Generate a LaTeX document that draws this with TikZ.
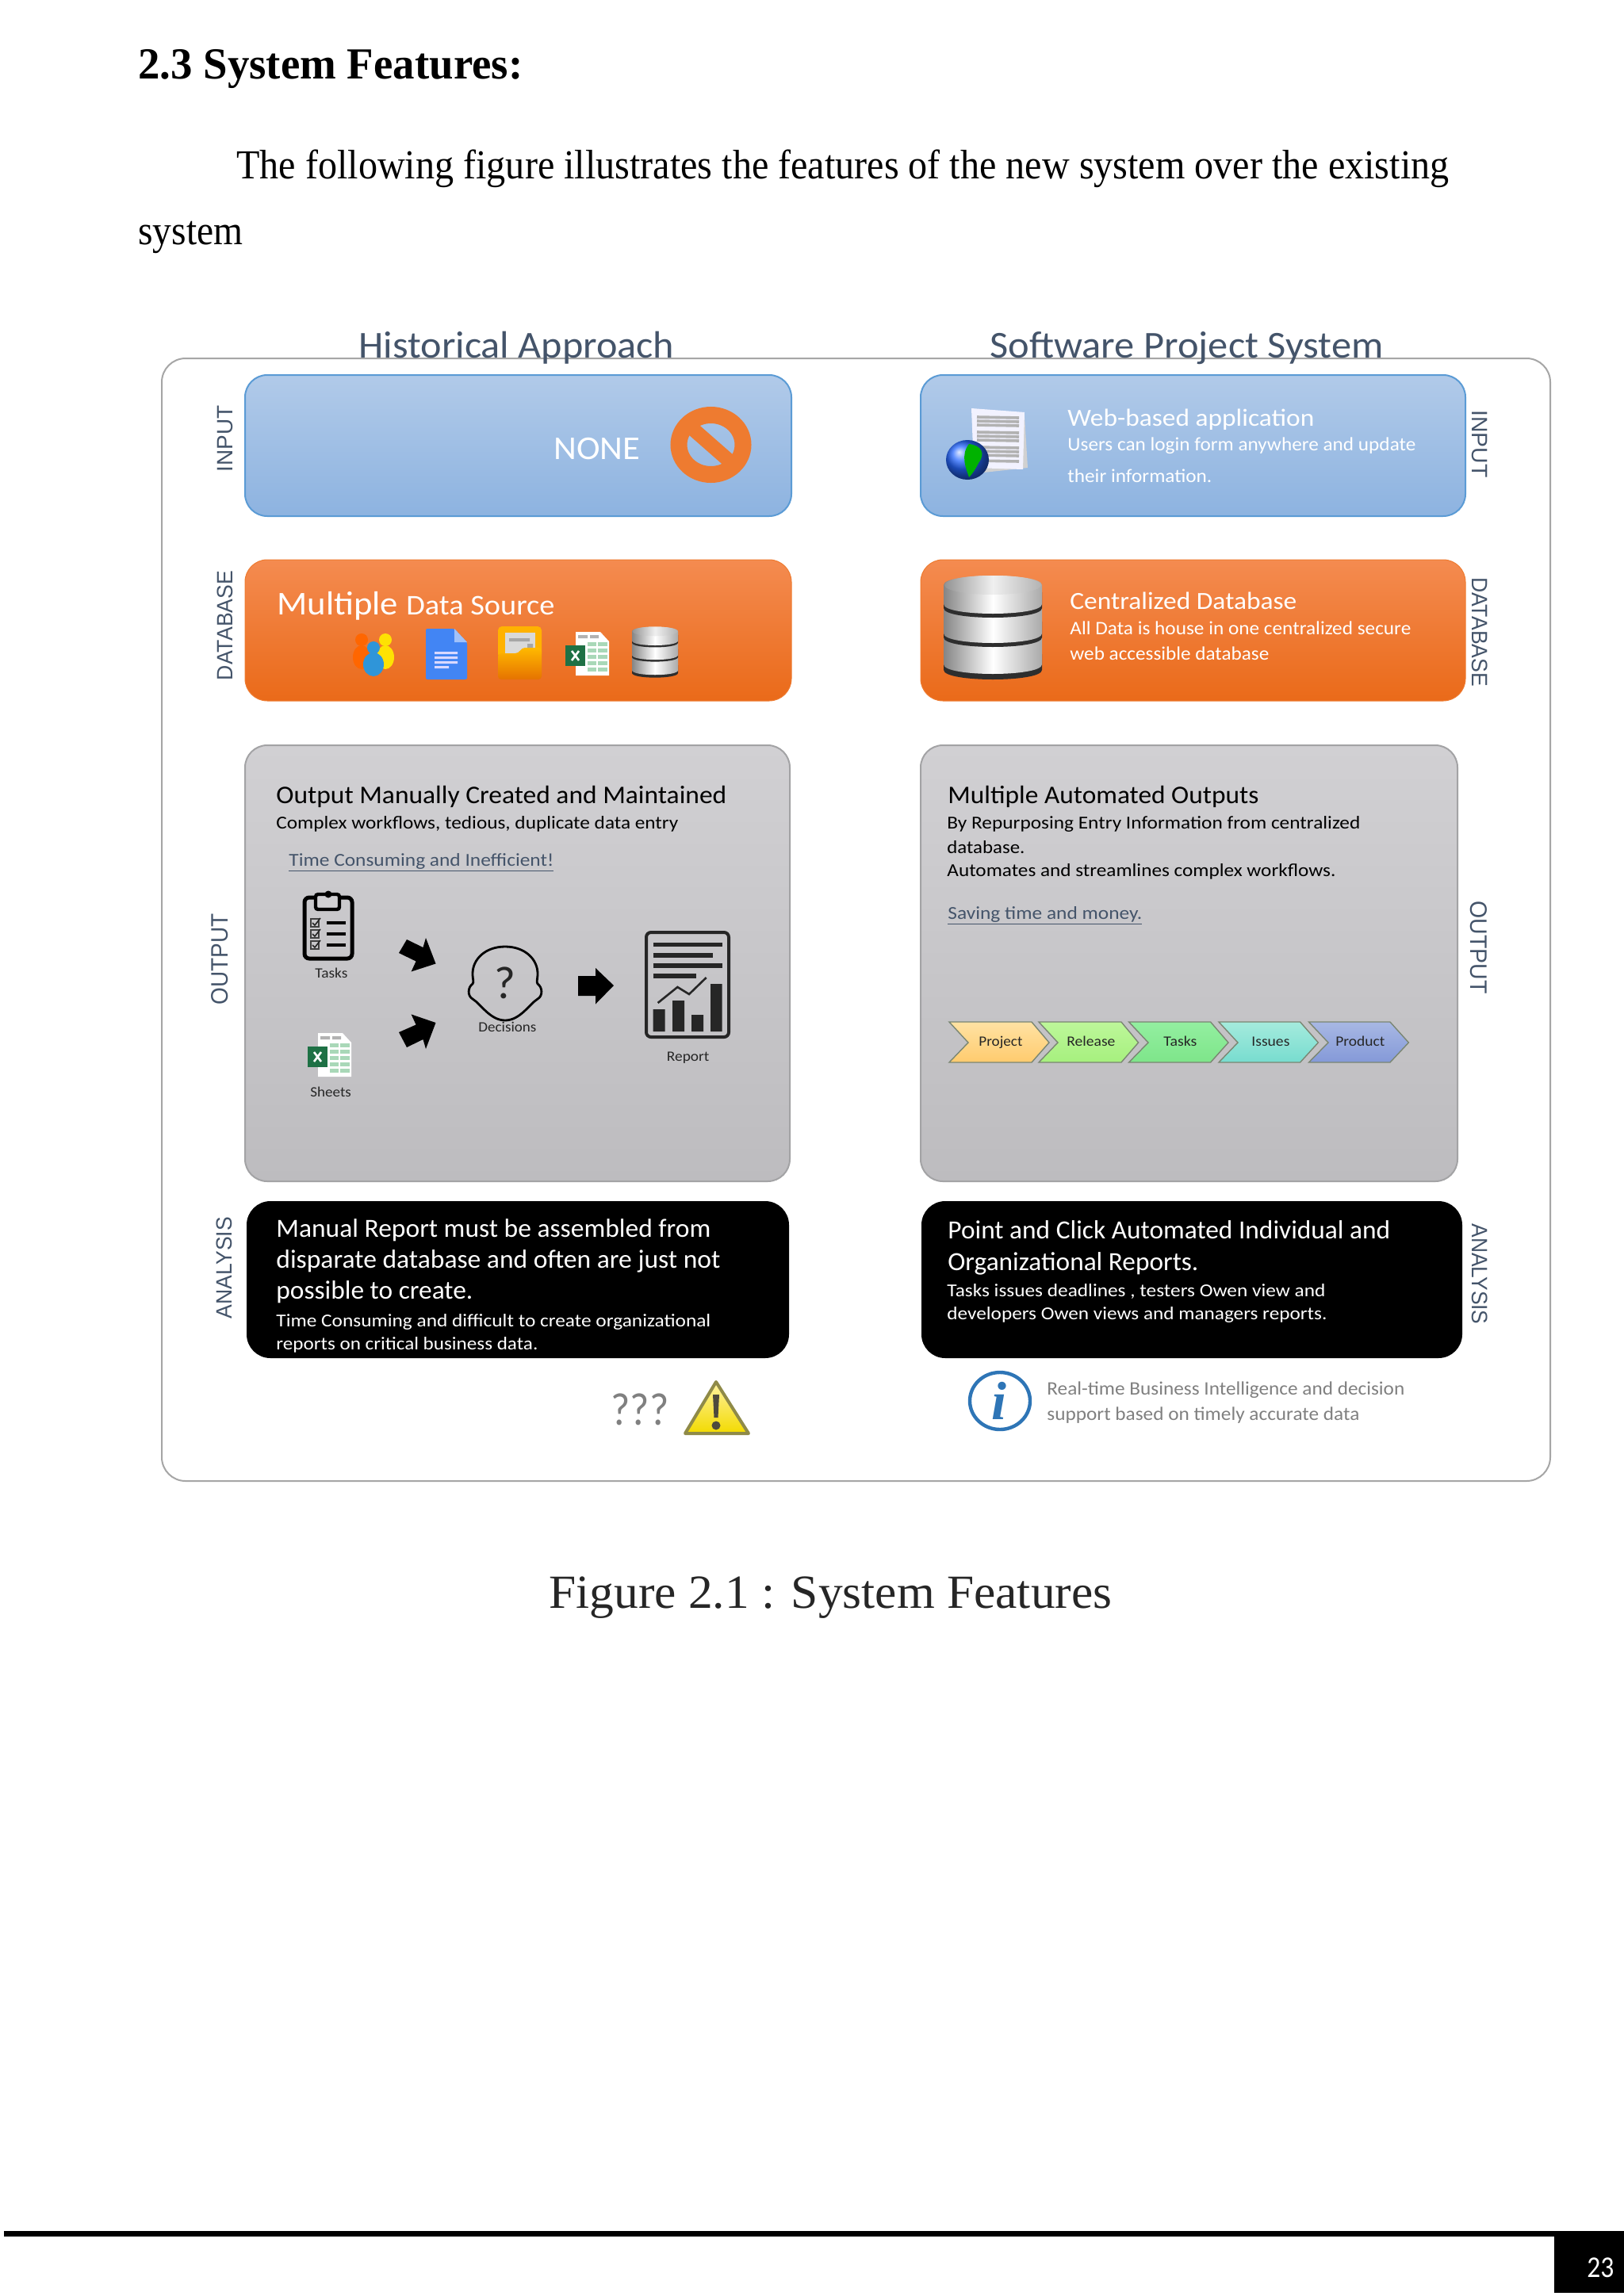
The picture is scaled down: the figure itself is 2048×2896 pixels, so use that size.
\documentclass[tikz,border=0pt]{standalone}
\usepackage{fontspec}
\usepackage{graphicx}
\setmainfont{Carlito}
\newfontfamily\serifT{Liberation Serif}
\newfontfamily\arialT{Liberation Sans}
\definecolor{slate}{HTML}{44546A}
\definecolor{frameC}{HTML}{A6A6A6}
\definecolor{blueE}{HTML}{5B9BD5}
\definecolor{blueT}{HTML}{B1CAE9}
\definecolor{blueB}{HTML}{8DB3E0}
\definecolor{orT}{HTML}{F48B50}
\definecolor{orB}{HTML}{EA6A19}
\definecolor{orS}{HTML}{EE7B30}
\definecolor{grT}{HTML}{D1D0D3}
\definecolor{grB}{HTML}{BDBCBF}
\definecolor{grE}{HTML}{A3A3A5}
\definecolor{greyT}{HTML}{808080}
\definecolor{xlG}{HTML}{1E7145}
\definecolor{xlL}{HTML}{A9D8B8}
\definecolor{dbS}{HTML}{858585}
\definecolor{infoC}{HTML}{2E75B6}
\definecolor{docB}{HTML}{4285F4}
\definecolor{docF}{HTML}{A1C2FA}
\definecolor{edgeC}{HTML}{7A8672}
\definecolor{chPa}{HTML}{FFE2A3}\definecolor{chPb}{HTML}{FFCB6E}
\definecolor{chRa}{HTML}{BDF79A}\definecolor{chRb}{HTML}{A6F07E}
\definecolor{chTa}{HTML}{93EFA0}\definecolor{chTb}{HTML}{7EE58A}
\definecolor{chIa}{HTML}{A5EBDD}\definecolor{chIb}{HTML}{77DCCF}
\definecolor{chOa}{HTML}{A8B8E4}\definecolor{chOb}{HTML}{8499D8}
\newlength\twd
\newsavebox\tbox
% target width in pt, text: text is stretched to the target width
\newcommand\fitbox[2]{%
  \sbox\tbox{#2}\twd=\wd\tbox
  \pgfmathsetmacro\xs{#1/\twd}%
  \scalebox{\xs}[1]{\usebox\tbox}}
% name, x0, x1, baseline y, size pt, colour, text
\newcommand\lab[7]{%
  \pgfmathsetmacro\tw{(#3-#2)*0.5}%
  \node[anchor=base west,inner sep=0pt,text=#6,font=\fontsize{#5}{#5}\selectfont] (#1) at (#2,#4) {\fitbox{\tw}{#7}};}
% name, cx, cy, length, size, rotation, text
\newcommand\vlab[7]{%
  \pgfmathsetmacro\tw{#4*0.5}%
  \node[anchor=center,inner sep=0pt,rotate=#6,text=slate,font=\fontsize{#5}{#5}\selectfont\arialT] (#1) at (#2,#3) {\fitbox{\tw}{#7}};}
\newcommand\dbtier[2]{%
  \shade[left color=dbS,right color=dbS!70,middle color=white]
    (0,#1) -- (0,#2) .. controls (0,#2+16) and (124,#2+16) .. (124,#2) -- (124,#1)
    .. controls (124,#1-16) and (0,#1-16) .. (0,#1) -- cycle;}
\newcommand\dbband[1]{%
  \fill[black!82] (0,#1-20) -- (0,#1) .. controls (0,#1+16) and (124,#1+16) .. (124,#1) -- (124,#1-20) -- cycle;}
\newcommand\dbicon[4]{%
  \begin{scope}[shift={(#1,#2)},xscale=#3,yscale=#4]
    \dbband{120}
    \dbtier{80}{113}
    \dbband{79}
    \dbtier{44}{74}
    \dbband{42}
    \dbtier{13}{37}
    \shade[left color=black!42,right color=black!30,middle color=black!6] (62,13) ellipse [x radius=61,y radius=12];
  \end{scope}}
\newcommand\xlicon[2]{%
  \begin{scope}[shift={(#1,#2)}]
    \fill[white] (13,0) -- (44,0) -- (55,12) -- (55,55) -- (13,55) -- cycle;
    \fill[black!30] (16,4) rectangle (28,8) (31,4) rectangle (42,8);
    \foreach \ya in {13,21,29,37,45}{
      \fill[xlL] (28,\ya) rectangle (39,\ya+5);
      \fill[xlL] (41,\ya) rectangle (53,\ya+5);}
    \fill[xlG] (0,17) rectangle (25,43);
    \draw[white,line width=1.3pt] (8,24) -- (17,36) (17,24) -- (8,36);
  \end{scope}}
\newcommand\chev[6]{% L R T N top bottom
  \path[draw=edgeC,line width=0.7pt,top color=#5,bottom color=#6] (#1,1289) -- (#2,1289) -- (#3,1315) -- (#2,1340) -- (#1,1340) -- (#4,1315) -- cycle;}
\begin{document}
\begin{tikzpicture}[x=0.5pt,y=-0.5pt,
  framebox/.style={draw=frameC,line width=1pt,rounded corners=15pt},
  bluebox/.style={draw=blueE,line width=1pt,top color=blueT,bottom color=blueB,rounded corners=14pt},
  orangebox/.style={draw=orS,line width=0.5pt,top color=orT,bottom color=orB,rounded corners=14pt},
  greybox/.style={draw=grE,line width=1pt,top color=grT,bottom color=grB,rounded corners=14pt},
  blackbox/.style={fill=black,rounded corners=15pt}]
\useasboundingbox (0,0) rectangle (2048,2896);
\fill[white] (0,0) rectangle (2048,2896);

% page text
\lab{heading}{174}{659}{99}{28}{black}{\serifT\bfseries 2.3 System Features:}
\lab{para1}{298}{1827}{225}{26}{black}{\serifT The following figure illustrates the features of the new system over the existing}
\lab{para2}{174}{306}{308}{26}{black}{\serifT system}
\lab{caption}{692}{1402}{2028}{30}{black!85}{\serifT Figure 2.1 : System Features}

% frame
\draw[framebox] (204,452) rectangle (1955,1868);
\lab{histT}{452}{850}{451}{24}{slate}{Historical Approach}
\lab{softT}{1248}{1744}{451}{24}{slate}{Software Project System}

% boxes
\draw[bluebox] (309,473) rectangle (998,651);
\draw[bluebox] (1161,473) rectangle (1848,651);
\draw[orangebox] (309,706) rectangle (998,884);
\draw[orangebox] (1161,706) rectangle (1848,884);
\draw[greybox] (309,940) rectangle (996,1490);
\draw[greybox] (1161,940) rectangle (1838,1490);
\fill[blackbox] (311,1515) rectangle (995,1713);
\fill[blackbox] (1162,1515) rectangle (1844,1713);

% side labels
\vlab{inL}{284}{553}{84}{14}{90}{INPUT}
\vlab{dbL}{284}{789}{138}{14}{90}{DATABASE}
\vlab{outL}{277}{1210}{115}{15}{90}{OUTPUT}
\vlab{anL}{283}{1599}{128}{14}{90}{ANALYSIS}
\vlab{inR}{1866}{560}{85}{14}{-90}{INPUT}
\vlab{dbR}{1866}{797}{138}{14}{-90}{DATABASE}
\vlab{outR}{1865}{1195}{117}{15}{-90}{OUTPUT}
\vlab{anR}{1866}{1607}{127}{14}{-90}{ANALYSIS}

% input left
\lab{none}{698}{807}{579}{21}{white}{NONE}
\draw[orS,line width=10.5pt] (896.5,561) ellipse [x radius=40.5,y radius=37.5];
\draw[orS,line width=9pt] (868,536) -- (925,586);

% input right
\fill[black!18] (1292,524) -- (1296,590) -- (1240,596) -- cycle;
\fill[white!95!blue] (1225,515) -- (1292,520) -- (1290,592) -- (1228,590) -- cycle;
\foreach \ya in {526,531,536,545,550,555,564,569,574,581}{
  \draw[black!30,line width=1.8pt] (1232,\ya) -- (1285,\ya+1);}
\shade[ball color=cyan!30!blue!85] (1220,580) ellipse [x radius=27,y radius=25];
\fill[green!70!black] (1222,560) .. controls (1238,562) and (1243,572) .. (1234,584) .. controls (1230,592) and (1226,598) .. (1222,602) .. controls (1218,590) and (1211,574) .. (1222,560) -- cycle;

\lab{webT}{1346}{1657}{537}{15.5}{white}{Web-based application}
\lab{webA}{1346}{1785}{568}{12}{white}{Users can login form anywhere and update}
\lab{webB}{1346}{1528}{608}{12}{white}{their information.}

% database left
\lab{multi}{349}{699}{775}{21}{white}{Multiple {\fontsize{18}{18}\selectfont Data Source}}
\fill[orange!80!red] (456,829) ellipse [x radius=11,y radius=15];
\fill[orange!80!red] (456,807) circle [radius=8];
\fill[yellow!85!orange] (486,829) ellipse [x radius=11,y radius=15];
\fill[yellow!85!orange] (486,807) circle [radius=8];
\fill[cyan!70!blue!85] (471,838) ellipse [x radius=13,y radius=15];
\fill[cyan!70!blue!85] (471,817) circle [radius=8];
\fill[docB,rounded corners=1pt] (537,793) -- (573,793) -- (589,810) -- (589,857) -- (537,857) -- cycle;
\fill[docF] (573,793) -- (589,810) -- (573,810) -- cycle;
\fill[white!85!blue] (548,822) rectangle (577,825) (548,828) rectangle (577,831) (548,834) rectangle (577,837) (548,840) rectangle (566,843);
\fill[orange!60!yellow,rounded corners=2.5pt] (628,790) rectangle (683,830);
\fill[black!15] (637,798) rectangle (675,830);
\fill[black!35] (642,805) rectangle (668,809) (665,812) rectangle (672,825);
\path[top color=orange!55!yellow,bottom color=orange!90!black,rounded corners=2pt] (628,824) -- (654,824) -- (658,817) -- (683,817) -- (683,857) -- (628,857) -- cycle;
\xlicon{713}{797}
\dbicon{797}{790}{0.468}{0.49}

% database right
\dbicon{1190}{725}{1}{1}
\lab{cenT}{1349}{1635}{768}{15.5}{white}{Centralized Database}
\lab{cenA}{1349}{1779}{800}{12}{white}{All Data is house in one centralized secure}
\lab{cenB}{1349}{1600}{832}{12}{white}{web accessible database}

% output left
\lab{omT}{348}{916}{1013}{16}{black}{Output Manually Created and Maintained}
\lab{omA}{348}{855}{1045}{11.5}{black}{Complex workflows, tedious, duplicate data entry}
\lab{omB}{364}{698}{1092}{11.5}{slate}{\underline{Time Consuming and Inefficient!}}
% clipboard
\draw[black,line width=2.5pt,rounded corners=3pt] (384,1132) rectangle (444,1209);
\draw[black,line width=2.2pt,fill=grT,rounded corners=1.5pt] (398,1128) rectangle (428,1147);
\fill[black] (414,1128) circle [radius=4.5];
\foreach \ya in {1164,1178,1192}{
  \draw[black!75,line width=0.6pt] (392,\ya-5) rectangle (402,\ya+5);
  \draw[black!85,line width=0.8pt] (394,\ya) -- (397,\ya+3) -- (404,\ya-6);
  \draw[black,line width=1.6pt] (412,\ya) -- (436,\ya);}
\lab{tasksL}{397}{438}{1233}{9}{black!85}{Tasks}
\xlicon{388}{1303}
\lab{sheetsL}{391}{442.5}{1383}{9}{black!85}{Sheets}
% arrows
\fill[black] (503,1202) -- (513,1185) -- (533.5,1195) -- (537,1183) -- (549.5,1215.5) -- (518.6,1225.5) -- (524.6,1212.5) -- cycle;
\fill[black] (503,1302) -- (513,1321) -- (533.5,1311) -- (537,1323) -- (549.5,1290) -- (518.6,1279.4) -- (524.6,1292.5) -- cycle;
\fill[black] (729,1231) -- (751,1231) -- (751,1221) -- (774,1243) -- (751,1266.5) -- (751,1256) -- (729,1256) -- cycle;
% head
\draw[black,line width=1.4pt] (637,1194) .. controls (612,1194) and (596,1210) .. (596,1228)
  .. controls (596,1236) and (598,1238) .. (596,1241) .. controls (590,1245) and (589,1256) .. (596,1260)
  .. controls (606,1266) and (618,1287) .. (637,1287) .. controls (656,1287) and (668,1266) .. (678,1260)
  .. controls (685,1256) and (684,1245) .. (678,1241) .. controls (676,1238) and (678,1236) .. (678,1228)
  .. controls (678,1210) and (662,1194) .. (637,1194) -- cycle;
\node[inner sep=0pt,anchor=center,text=black!85,font=\fontsize{29}{29}\selectfont] (qmark) at (637,1240) {?};
\lab{decL}{603}{676}{1301}{9}{black!85}{Decisions}
% report
\draw[black!85,line width=2pt,rounded corners=3pt] (815,1176) rectangle (919,1308);
\foreach \ya/\xb in {1191.5/910.6,1205/899,1218/910.6,1231/878}{
  \draw[black!85,line width=2.8pt] (823.6,\ya) -- (\xb,\ya);}
\fill[black!85] (823.6,1273) rectangle (838.5,1301) (848,1262) rectangle (863,1301) (872,1280) rectangle (887,1301) (896,1241) rectangle (910.6,1301);
\draw[black!85,line width=1.3pt] (829.6,1265) -- (854.4,1245) -- (869,1254) -- (890.7,1233);
\lab{repL}{840.5}{894}{1338}{9}{black!85}{Report}

% output right
\lab{maT}{1195}{1587}{1013}{16}{black}{Multiple Automated Outputs}
\lab{maA}{1194}{1715}{1045}{11.5}{black}{By Repurposing Entry Information from centralized}
\lab{maB}{1194}{1292}{1076}{11.5}{black}{database.}
\lab{maC}{1194}{1684}{1105}{11.5}{black}{Automates and streamlines complex workflows.}
\lab{maD}{1195}{1440}{1159}{11.5}{slate}{\underline{Saving time and money.}}
\chev{1197}{1301}{1323}{1221}{chPa}{chPb}
\chev{1310}{1414}{1435.6}{1334}{chRa}{chRb}
\chev{1423.6}{1526.6}{1549}{1448}{chTa}{chTb}
\chev{1537}{1639.6}{1662.4}{1561}{chIa}{chIb}
\chev{1650.5}{1753}{1776.4}{1675}{chOa}{chOb}
\lab{chP}{1234}{1289}{1319}{9}{black!85}{Project}
\lab{chR}{1345}{1406}{1319}{9}{black!85}{Release}
\lab{chT}{1467}{1509}{1319}{9}{black!85}{Tasks}
\lab{chI}{1578}{1626}{1319}{9}{black!85}{Issues}
\lab{chO}{1684}{1746}{1319}{9}{black!85}{Product}

% analysis left
\lab{mrA}{348}{896}{1560}{16.5}{white}{Manual Report must be assembled from}
\lab{mrB}{348}{908}{1599}{16.5}{white}{disparate database and often are just not}
\lab{mrC}{348}{596}{1638}{16.5}{white}{possible to create.}
\lab{mrD}{348}{896}{1673}{11.5}{white}{Time Consuming and difficult to create organizational}
\lab{mrE}{348}{678}{1702}{11.5}{white}{reports on critical business data.}
\lab{qqq}{770}{843}{1797}{29}{greyT}{???}
\path[draw=yellow!50!black,line width=2pt,line join=round,top color=yellow!30!white!90!orange,bottom color=yellow!80!orange!95!black] (903,1743) -- (944,1808) -- (864,1808) -- cycle;
\fill[black!80!yellow] (899,1759) -- (907,1759) -- (905.5,1788) -- (900.5,1788) -- cycle;
\fill[black!80!yellow] (903,1798) circle [radius=5.5];

% analysis right
\lab{ptA}{1195}{1753}{1562}{16.5}{white}{Point and Click Automated Individual and}
\lab{ptB}{1195}{1511}{1602}{16.5}{white}{Organizational Reports.}
\lab{ptC}{1194}{1671}{1635}{11.5}{white}{Tasks issues deadlines , testers Owen view and}
\lab{ptD}{1194}{1673}{1664}{11.5}{white}{developers Owen views and managers reports.}
\draw[infoC,line width=2.2pt] (1261,1767) ellipse [x radius=38,y radius=36];
\node[inner sep=0pt,anchor=center,text=infoC,font=\fontsize{34}{34}\selectfont\serifT\bfseries\itshape] (infoI) at (1260,1767) {i};
\lab{rtA}{1320}{1771}{1759}{12}{greyT}{Real-time Business Intelligence and decision}
\lab{rtB}{1320}{1714}{1791}{12}{greyT}{support based on timely accurate data}

% footer
\fill[black] (5,2814) rectangle (2041,2821);
\fill[black] (1960,2814) rectangle (2048,2892);
\lab{pageN}{2001}{2035}{2872}{19}{white}{23}
\end{tikzpicture}
\end{document}
